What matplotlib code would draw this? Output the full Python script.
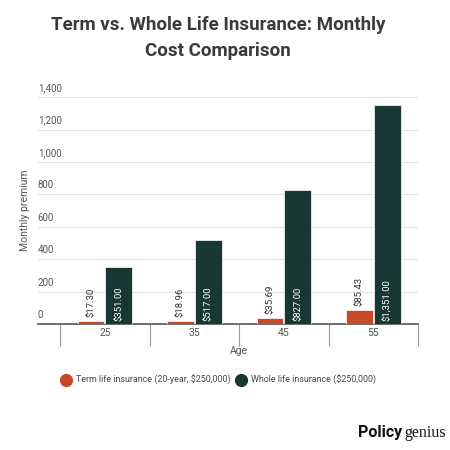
import numpy as np
import matplotlib.pyplot as plt
from matplotlib.lines import Line2D

# Chart data
ages = ["25", "35", "45", "55"]
term_cost = [17.30, 18.96, 35.69, 85.43]
whole_cost = [351.00, 517.00, 827.00, 1351.00]
term_label = "Term life insurance (20-year, $250,000)"
whole_label = "Whole life insurance ($250,000)"
y_ticks = [0, 200, 400, 600, 800, 1000, 1200, 1400]

# Style
orange = "#C64A26"
green = "#173832"
grey_txt = "#555555"
plt.rcParams['font.family'] = ['Roboto', 'DejaVu Sans']

fig = plt.figure(figsize=(4.5, 4.5), dpi=100)
ax = fig.add_axes([0.084, 0.28, 0.845, 0.504])

x = np.arange(len(ages))
w = 0.3
b1 = ax.bar(x - 0.155, term_cost, width=w, color=orange, edgecolor="white", linewidth=0.5, zorder=3)
b2 = ax.bar(x + 0.155, whole_cost, width=w, color=green, edgecolor="white", linewidth=0.5, zorder=3)

# value labels
for xi, v in zip(x, term_cost):
    ax.text(xi - 0.155, v + 25, "${:,.2f}".format(v), rotation=90, ha="center", va="bottom",
            fontsize=6.8, color="#333333", zorder=4)
for xi, v in zip(x, whole_cost):
    ax.text(xi + 0.155, 16, "${:,.2f}".format(v), rotation=90, ha="center", va="bottom",
            fontsize=6.8, color="white", zorder=4)

ax.set_xlim(-0.75, 3.5)
ax.set_ylim(0, 1400)

# gridlines with labels sitting above them
for t in y_ticks:
    if t > 0:
        ax.axhline(t, color="#e3e3e3", linewidth=0.8, zorder=1)
    ax.text(-0.75, t + 25, "{:,}".format(t), ha="left", va="bottom", fontsize=7,
            color=grey_txt, clip_on=False)
ax.set_yticks([])

for s in ["top", "right", "left"]:
    ax.spines[s].set_visible(False)
ax.spines["bottom"].set_color("#555555")
ax.spines["bottom"].set_linewidth(1.2)

# category dividers under the axis
ax.set_xticks(np.arange(-0.5, 3.6, 1.0))
ax.set_xticklabels([])
ax.tick_params(axis="x", length=16, color="#999999", width=0.8)
for xi, a in zip(x, ages):
    ax.text(xi, -55, a, ha="center", va="center", fontsize=7.5, color=grey_txt, clip_on=False)
ax.text(1.5, -165, "Age", ha="center", va="center", fontsize=7.5, color=grey_txt, clip_on=False)

ax.set_ylabel("Monthly premium", fontsize=7.5, color=grey_txt, labelpad=4)
ax.yaxis.set_label_coords(-0.02, 0.5)

# title
fig.text(0.485, 0.915, "Term vs. Whole Life Insurance: Monthly\nCost Comparison", ha="center",
         va="center", fontsize=13.5, fontweight="bold", color="#3a3a3a", linespacing=1.55)

# legend
handles = [Line2D([], [], marker="o", markersize=8.5, color=orange, linestyle="None"),
           Line2D([], [], marker="o", markersize=8.5, color=green, linestyle="None")]
ax.legend(handles, [term_label, whole_label], loc="center", bbox_to_anchor=(0.487, 0.155),
          bbox_transform=fig.transFigure, ncol=2, frameon=False, fontsize=6.4,
          handlelength=0.8, columnspacing=0.8, handletextpad=0.7, labelcolor="#444444")

# logo
fig.text(0.795, 0.04, "Policy", ha="left", va="center", fontsize=11.5, fontweight="bold", color="#111111")
fig.text(0.898, 0.037, "genius", ha="left", va="center", fontsize=11.5, family="Liberation Serif",
         color="#111111")

fig.savefig("out.png", dpi=100, facecolor="white")
